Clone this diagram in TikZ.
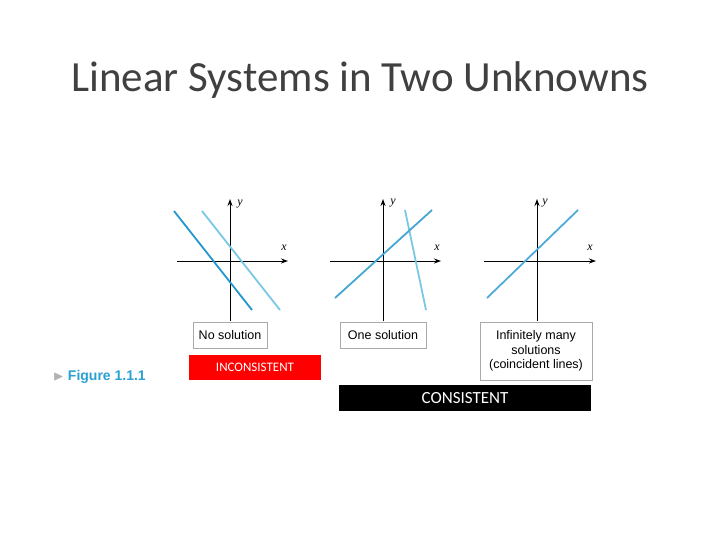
\documentclass[tikz,border=0pt]{standalone}
\usepackage{amssymb}
\usepackage{fontspec}
\usetikzlibrary{arrows.meta}
\setmainfont{Carlito}
\newfontfamily\arialf{Liberation Sans}
\newfontfamily\timesf{Liberation Serif}
\definecolor{dblue}{RGB}{35,150,205}
\definecolor{lblue}{RGB}{120,200,230}
\definecolor{figc}{RGB}{40,160,210}
\definecolor{boxg}{RGB}{170,170,170}
\begin{document}
\begin{tikzpicture}[x=1pt,y=-1pt,
  ax/.style={line width=0.9pt,-{Stealth[length=7pt,width=5pt]}},
  ln/.style={line width=1.8pt},
  lab/.style={font=\timesf\itshape\fontsize{12}{13}\selectfont,inner sep=0pt},
  lbox/.style={draw=boxg,fill=white,font=\arialf\fontsize{12.5}{14.5}\selectfont,align=center,inner sep=3pt}]
\useasboundingbox (0,0) rectangle (720,540);
\node (title) at (360,80) {\fontsize{43}{50}\selectfont\color[RGB]{64,64,64}Linear Systems in Two Unknowns};
% panel 1
\coordinate (a1) at (230,321); \coordinate (a2) at (230,199);
\coordinate (b1) at (177,261); \coordinate (b2) at (288,261);
\draw[ax] (a1) -- (a2); \draw[ax] (b1) -- (b2);
\node[lab] (y1) at (240,204) {y}; \node[lab] (x1) at (284,248) {x};
\coordinate (p1) at (174,211); \coordinate (p2) at (252,310);
\coordinate (q1) at (202,211); \coordinate (q2) at (280,310);
\draw[ln,dblue] (p1) -- (p2); \draw[ln,lblue] (q1) -- (q2);
% panel 2
\coordinate (c1) at (383,321); \coordinate (c2) at (383,199);
\coordinate (d1) at (330,261); \coordinate (d2) at (441,261);
\draw[ax] (c1) -- (c2); \draw[ax] (d1) -- (d2);
\node[lab] (y2) at (393,203) {y}; \node[lab] (x2) at (437,248) {x};
\coordinate (r1) at (335,298); \coordinate (r2) at (432,210);
\coordinate (s1) at (405,210); \coordinate (s2) at (426,310);
\draw[ln,lblue] (s1) -- (s2); \draw[ln,dblue!85] (r1) -- (r2);
% panel 3
\coordinate (e1) at (537,321); \coordinate (e2) at (537,199);
\coordinate (f1) at (484,261); \coordinate (f2) at (596,261);
\draw[ax] (e1) -- (e2); \draw[ax] (f1) -- (f2);
\node[lab] (y3) at (545,203) {y}; \node[lab] (x3) at (590,248) {x};
\coordinate (t1) at (487,298); \coordinate (t2) at (578,210);
\draw[ln,dblue!80] (t1) -- (t2);
% boxes
\node[lbox,minimum width=74pt,minimum height=26pt] (nos) at (230,335) {No solution};
\node[lbox,minimum width=86pt,minimum height=26pt] (ones) at (383,335) {One solution};
\node[lbox,minimum width=112pt,minimum height=58pt] (inf) at (536,351) {Infinitely many\\solutions\\(coincident lines)};
\node[fill=red,text=white,minimum width=132pt,minimum height=25pt,inner sep=0pt,font=\fontsize{13}{14}\selectfont] (inc) at (255,367.5) {INCONSISTENT};
\node[fill=black,text=white,minimum width=252pt,minimum height=26pt,inner sep=0pt,font=\fontsize{17}{19}\selectfont] (con) at (465,398) {CONSISTENT};
\node[anchor=west,text=figc,font=\arialf\bfseries\fontsize{14}{16}\selectfont,inner sep=0pt] (fig) at (53,377) {\textcolor{gray!60}{$\blacktriangleright$}\ Figure 1.1.1};
\end{tikzpicture}
\end{document}
